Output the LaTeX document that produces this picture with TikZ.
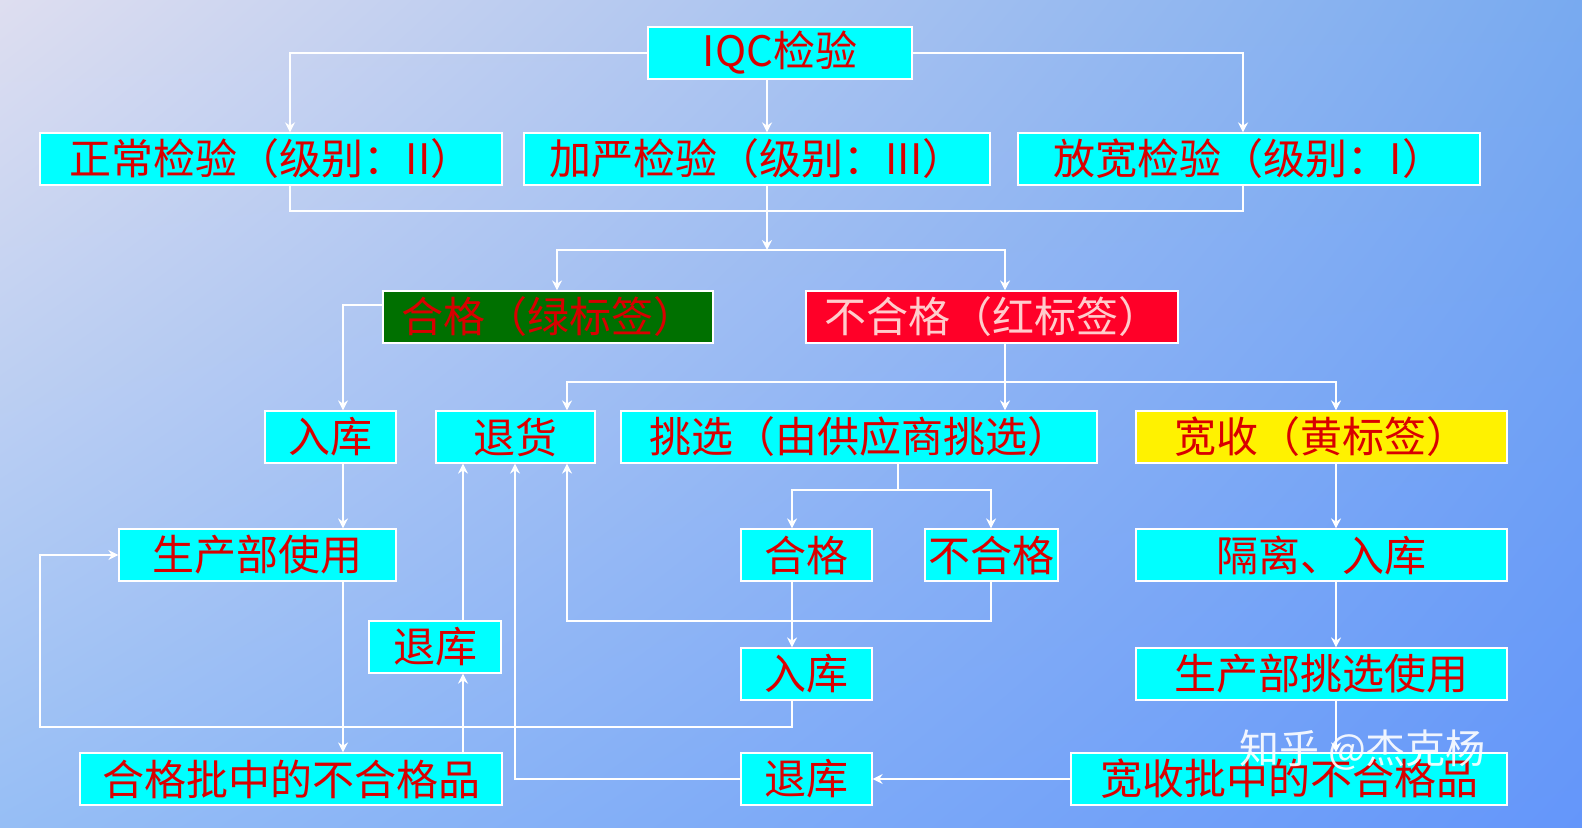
\documentclass[tikz,border=0pt]{standalone}
\usepackage{fontspec}
\setmainfont{Noto Sans CJK SC}
\usetikzlibrary{arrows.meta,shadings}
\definecolor{bgul}{RGB}{222,222,240}
\definecolor{bgur}{RGB}{120,170,240}
\definecolor{bgll}{RGB}{150,190,245}
\definecolor{bglr}{RGB}{100,150,250}
\definecolor{cy}{rgb}{0,1,1}
\definecolor{gr}{RGB}{0,112,0}
\definecolor{rd}{RGB}{255,0,40}
\begin{document}
\begin{tikzpicture}[x=0.5pt,y=-0.5pt,
 box/.style={draw=white,line width=0.6pt,fill=cy,text=red!85!black,inner sep=0pt,minimum height=26pt,font=\fontsize{21}{21}\selectfont},
 ln/.style={white,line width=1pt},
 ar/.style={white,line width=1pt,-{Stealth[length=5pt,width=5pt]}}]
\useasboundingbox (0,0) rectangle (1582,828);
\shade[upper left=bgul,upper right=bgur,lower left=bgll,lower right=bglr] (0,0) rectangle (1582,828);
\node[box,minimum width=132pt] (iqc) at (780,53) {IQC检验};
\node[box,minimum width=231pt] (zc) at (271,159) {正常检验（级别：II）};
\node[box,minimum width=233pt] (jy) at (757,159) {加严检验（级别：III）};
\node[box,minimum width=231pt] (fk) at (1249,159) {放宽检验（级别：I）};
\node[box,minimum width=165pt,fill=gr] (hg) at (548,317) {合格（绿标签）};
\node[box,minimum width=186pt,fill=rd,text=white!80!red] (bhg) at (992,317) {不合格（红标签）};
\node[box,minimum width=65.5pt] (rk1) at (330.5,437) {入库};
\node[box,minimum width=79.5pt] (th) at (515.5,437) {退货};
\node[box,minimum width=238pt] (tx) at (859,437) {挑选（由供应商挑选）};
\node[box,minimum width=185.5pt,fill=yellow] (ks) at (1321.5,437) {宽收（黄标签）};
\node[box,minimum width=138.5pt] (sc) at (257.5,555) {生产部使用};
\node[box,minimum width=65.5pt] (hg2) at (806.5,555) {合格};
\node[box,minimum width=66.5pt] (bhg2) at (991.5,555) {不合格};
\node[box,minimum width=185.5pt] (gl) at (1321.5,555) {隔离、入库};
\node[box,minimum width=66pt] (tk1) at (435,647) {退库};
\node[box,minimum width=65.5pt] (rk2) at (806.5,674) {入库};
\node[box,minimum width=185.5pt] (sctx) at (1321.5,674) {生产部挑选使用};
\node[box,minimum width=211pt] (hgp) at (291,779) {合格批中的不合格品};
\node[box,minimum width=65.5pt] (tk2) at (806.5,779) {退库};
\node[box,minimum width=218pt] (ksp) at (1289,779) {宽收批中的不合格品};
% connectors
\draw[ar] (iqc.west) -| (zc.north -| 290,0);
\draw[ar] (iqc.south -| 767,0) -- (jy.north -| 767,0);
\draw[ar] (iqc.east) -| (fk.north -| 1243,0);
\coordinate (j1) at (767,250);
\draw[ln] (zc.south -| 290,0) |- (1243,211) -- (fk.south -| 1243,0);
\draw[ar] (767,185) -- (j1);
\draw[ar] (j1) -| (hg.north -| 557,0);
\draw[ar] (j1) -| (bhg.north -| 1005,0);
\draw[ar] (hg.west |- 0,305) -| (rk1.north -| 343,0);
\coordinate (j2) at (1005,382);
\draw[ln] (bhg.south -| 1005,0) -- (j2);
\draw[ar] (j2) -| (th.north -| 567,0);
\draw[ar] (j2) -- (tx.north -| 1005,0);
\draw[ar] (j2) -| (ks.north -| 1336,0);
\draw[ar] (rk1.south -| 343,0) -- (sc.north -| 343,0);
\draw[ar] (sc.south -| 343,0) -- (hgp.north -| 343,0);
\draw[ar] (hgp.north -| 463,0) -- (tk1.south -| 463,0);
\draw[ar] (tk1.north -| 463,0) -- (th.south -| 463,0);
\coordinate (j3) at (898,490);
\draw[ln] (tx.south -| 898,0) -- (j3);
\draw[ar] (j3) -| (hg2.north -| 792,0);
\draw[ar] (j3) -| (bhg2.north -| 991,0);
\draw[ar] (hg2.south -| 792,0) -- (rk2.north -| 792,0);
\draw[ar] (bhg2.south -| 991,0) |- (567,621) -- (th.south -| 567,0);
\draw[ar] (rk2.south -| 792,0) |- (40,727) |- (sc.west);
\draw[ar] (ks.south -| 1336,0) -- (gl.north -| 1336,0);
\draw[ar] (gl.south -| 1336,0) -- (sctx.north -| 1336,0);
\draw[ar] (sctx.south -| 1336,0) -- (ksp.north -| 1336,0);
\draw[ar] (ksp.west) -- (tk2.east);
\draw[ar] (tk2.west) -| (th.south -| 515,0);
\node[text=white,opacity=0.9,font=\fontsize{20}{20}\selectfont,anchor=west] (wm) at (1232,750) {知乎 @杰克杨};
\end{tikzpicture}
\end{document}
